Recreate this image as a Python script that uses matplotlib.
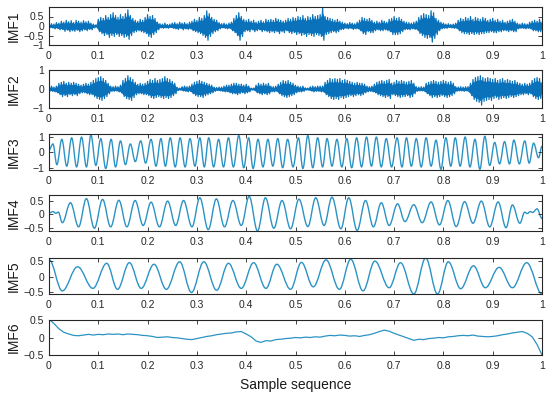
import numpy as np
import matplotlib
matplotlib.use("Agg")
import matplotlib.pyplot as plt
from matplotlib.path import Path
from matplotlib.patches import PathPatch

plt.rcParams['font.family'] = ['Liberation Sans', 'DejaVu Sans']

# ---------------- data ----------------
# IMF1 / IMF2: envelopes sampled every 0.005 on 0..1
env_t = np.linspace(0, 1, 201)
imf1_upper = [0.08, 0.12, 0.10, 0.18, 0.15, 0.25, 0.20, 0.30, 0.22, 0.28,
              0.18, 0.30, 0.25, 0.20, 0.28, 0.22, 0.25, 0.15, 0.10, 0.06,
              0.35, 0.45, 0.40, 0.55, 0.45, 0.60, 0.70, 0.55, 0.45, 0.60,
              0.50, 0.65, 0.85, 0.55, 0.40, 0.30, 0.25, 0.35, 0.30, 0.45,
              0.60, 0.50, 0.55, 0.40, 0.20, 0.12, 0.10, 0.15, 0.08, 0.10,
              0.15, 0.18, 0.12, 0.20, 0.15, 0.18, 0.12, 0.20, 0.25, 0.35,
              0.30, 0.45, 0.40, 0.55, 0.80, 0.65, 0.45, 0.35, 0.30, 0.18,
              0.12, 0.15, 0.10, 0.15, 0.20, 0.40, 0.55, 0.70, 0.50, 0.35,
              0.30, 0.35, 0.25, 0.30, 0.20, 0.25, 0.30, 0.22, 0.35, 0.30,
              0.35, 0.30, 0.40, 0.35, 0.30, 0.25, 0.30, 0.40, 0.35, 0.45,
              0.40, 0.50, 0.45, 0.55, 0.40, 0.50, 0.45, 0.60, 0.50, 0.55,
              0.60, 0.95, 0.50, 0.45, 0.40, 0.35, 0.30, 0.35, 0.25, 0.20,
              0.15, 0.12, 0.18, 0.15, 0.12, 0.20, 0.30, 0.45, 0.40, 0.35,
              0.40, 0.30, 0.20, 0.25, 0.20, 0.30, 0.25, 0.20, 0.35, 0.40,
              0.50, 0.40, 0.45, 0.35, 0.25, 0.20, 0.18, 0.15, 0.20, 0.25,
              0.45, 0.55, 0.65, 0.60, 0.55, 0.80, 0.70, 0.40, 0.30, 0.20,
              0.15, 0.10, 0.12, 0.08, 0.10, 0.15, 0.30, 0.40, 0.35, 0.45,
              0.40, 0.50, 0.35, 0.45, 0.40, 0.35, 0.45, 0.40, 0.30, 0.35,
              0.40, 0.30, 0.35, 0.25, 0.30, 0.20, 0.25, 0.30, 0.35, 0.25,
              0.15, 0.10, 0.15, 0.12, 0.10, 0.20, 0.25, 0.30, 0.25, 0.35,
              0.20]
imf1_lower = [-0.08, -0.10, -0.15, -0.12, -0.20, -0.18, -0.28, -0.22, -0.30, -0.25,
              -0.28, -0.22, -0.30, -0.25, -0.20, -0.25, -0.18, -0.20, -0.10, -0.05,
              -0.30, -0.40, -0.50, -0.45, -0.60, -0.50, -0.55, -0.45, -0.55, -0.50,
              -0.60, -0.55, -0.70, -0.50, -0.35, -0.30, -0.25, -0.30, -0.35, -0.40,
              -0.55, -0.60, -0.45, -0.35, -0.20, -0.10, -0.12, -0.10, -0.12, -0.08,
              -0.12, -0.15, -0.18, -0.12, -0.20, -0.15, -0.18, -0.15, -0.25, -0.30,
              -0.35, -0.40, -0.50, -0.60, -0.75, -0.55, -0.40, -0.30, -0.25, -0.15,
              -0.10, -0.12, -0.15, -0.12, -0.25, -0.35, -0.50, -0.75, -0.55, -0.30,
              -0.25, -0.30, -0.20, -0.30, -0.25, -0.20, -0.30, -0.25, -0.30, -0.35,
              -0.30, -0.35, -0.30, -0.40, -0.30, -0.35, -0.25, -0.35, -0.40, -0.35,
              -0.45, -0.40, -0.50, -0.45, -0.55, -0.45, -0.50, -0.55, -0.45, -0.50,
              -0.55, -0.75, -0.45, -0.40, -0.35, -0.30, -0.35, -0.30, -0.20, -0.18,
              -0.12, -0.15, -0.12, -0.18, -0.15, -0.15, -0.25, -0.40, -0.45, -0.30,
              -0.35, -0.35, -0.25, -0.20, -0.25, -0.25, -0.20, -0.25, -0.30, -0.45,
              -0.45, -0.45, -0.40, -0.30, -0.20, -0.18, -0.20, -0.15, -0.18, -0.20,
              -0.40, -0.50, -0.60, -0.65, -0.60, -0.85, -0.65, -0.45, -0.25, -0.15,
              -0.12, -0.12, -0.08, -0.10, -0.12, -0.12, -0.25, -0.35, -0.40, -0.40,
              -0.45, -0.40, -0.45, -0.40, -0.45, -0.40, -0.40, -0.35, -0.35, -0.30,
              -0.35, -0.35, -0.30, -0.30, -0.25, -0.25, -0.30, -0.25, -0.30, -0.30,
              -0.15, -0.12, -0.12, -0.15, -0.12, -0.15, -0.25, -0.25, -0.30, -0.30,
              -0.20]
imf2_upper = [0.10, 0.15, 0.10, 0.15, 0.30, 0.35, 0.40, 0.30, 0.35, 0.30,
              0.35, 0.30, 0.25, 0.20, 0.25, 0.30, 0.25, 0.35, 0.45, 0.55,
              0.60, 0.65, 0.55, 0.45, 0.30, 0.15, 0.12, 0.15, 0.12, 0.20,
              0.45, 0.55, 0.70, 0.60, 0.50, 0.35, 0.25, 0.30, 0.25, 0.30,
              0.40, 0.50, 0.45, 0.55, 0.45, 0.50, 0.55, 0.65, 0.55, 0.50,
              0.40, 0.30, 0.08, 0.05, 0.12, 0.15, 0.12, 0.15, 0.25, 0.35,
              0.40, 0.45, 0.40, 0.35, 0.30, 0.25, 0.20, 0.10, 0.08, 0.10,
              0.10, 0.15, 0.20, 0.20, 0.25, 0.30, 0.30, 0.25, 0.25, 0.20,
              0.25, 0.15, 0.05, 0.05, 0.20, 0.30, 0.25, 0.30, 0.25, 0.30,
              0.15, 0.12, 0.15, 0.25, 0.35, 0.45, 0.40, 0.45, 0.35, 0.30,
              0.20, 0.15, 0.12, 0.15, 0.06, 0.05, 0.12, 0.15, 0.12, 0.15,
              0.15, 0.15, 0.35, 0.45, 0.55, 0.50, 0.55, 0.50, 0.55, 0.45,
              0.50, 0.45, 0.40, 0.35, 0.30, 0.35, 0.30, 0.30, 0.25, 0.15,
              0.12, 0.15, 0.25, 0.35, 0.40, 0.45, 0.40, 0.45, 0.50, 0.30,
              0.35, 0.45, 0.40, 0.45, 0.40, 0.35, 0.40, 0.45, 0.30, 0.12,
              0.10, 0.12, 0.10, 0.30, 0.35, 0.40, 0.45, 0.40, 0.35, 0.40,
              0.45, 0.40, 0.35, 0.40, 0.30, 0.12, 0.10, 0.12, 0.10, 0.12,
              0.12, 0.30, 0.50, 0.60, 0.65, 0.70, 0.60, 0.55, 0.60, 0.55,
              0.50, 0.55, 0.45, 0.50, 0.55, 0.45, 0.50, 0.45, 0.40, 0.45,
              0.35, 0.30, 0.25, 0.30, 0.25, 0.30, 0.45, 0.55, 0.60, 0.55,
              0.35]
imf2_lower = [-0.10, -0.12, -0.15, -0.20, -0.30, -0.40, -0.35, -0.40, -0.30, -0.35,
              -0.30, -0.35, -0.25, -0.20, -0.20, -0.25, -0.30, -0.30, -0.40, -0.50,
              -0.55, -0.60, -0.50, -0.40, -0.25, -0.12, -0.12, -0.10, -0.15, -0.20,
              -0.40, -0.50, -0.55, -0.60, -0.45, -0.30, -0.25, -0.25, -0.30, -0.30,
              -0.35, -0.45, -0.50, -0.45, -0.40, -0.45, -0.50, -0.45, -0.50, -0.45,
              -0.35, -0.25, -0.08, -0.05, -0.10, -0.12, -0.15, -0.12, -0.25, -0.35,
              -0.40, -0.40, -0.45, -0.35, -0.30, -0.25, -0.20, -0.12, -0.08, -0.10,
              -0.12, -0.15, -0.15, -0.20, -0.25, -0.25, -0.30, -0.25, -0.20, -0.25,
              -0.20, -0.15, -0.05, -0.06, -0.20, -0.25, -0.30, -0.25, -0.30, -0.25,
              -0.15, -0.15, -0.12, -0.25, -0.35, -0.40, -0.45, -0.40, -0.35, -0.30,
              -0.20, -0.15, -0.15, -0.12, -0.05, -0.06, -0.10, -0.15, -0.12, -0.12,
              -0.15, -0.15, -0.30, -0.40, -0.50, -0.55, -0.50, -0.55, -0.45, -0.50,
              -0.45, -0.40, -0.35, -0.40, -0.35, -0.30, -0.35, -0.30, -0.20, -0.15,
              -0.12, -0.15, -0.20, -0.30, -0.35, -0.40, -0.45, -0.40, -0.50, -0.30,
              -0.35, -0.40, -0.45, -0.40, -0.40, -0.35, -0.45, -0.40, -0.25, -0.12,
              -0.10, -0.10, -0.12, -0.25, -0.35, -0.45, -0.40, -0.45, -0.40, -0.35,
              -0.40, -0.45, -0.40, -0.35, -0.25, -0.12, -0.10, -0.10, -0.12, -0.10,
              -0.15, -0.35, -0.55, -0.65, -0.70, -0.85, -0.65, -0.60, -0.55, -0.60,
              -0.50, -0.45, -0.55, -0.50, -0.45, -0.50, -0.45, -0.40, -0.45, -0.40,
              -0.35, -0.30, -0.30, -0.25, -0.30, -0.25, -0.40, -0.50, -0.55, -0.50,
              -0.30]

# IMF3..IMF5: successive extrema (time, value)
imf3_t = [0.0, 0.008, 0.016, 0.026, 0.036, 0.046, 0.056, 0.066, 0.076, 0.085,
          0.095, 0.105, 0.115, 0.126, 0.135, 0.145, 0.155, 0.165, 0.175, 0.186,
          0.196, 0.207, 0.217, 0.227, 0.236, 0.246, 0.256, 0.266, 0.276, 0.286,
          0.296, 0.306, 0.315, 0.324, 0.334, 0.344, 0.354, 0.364, 0.374, 0.385,
          0.395, 0.405, 0.414, 0.424, 0.434, 0.444, 0.454, 0.464, 0.474, 0.484,
          0.495, 0.506, 0.515, 0.525, 0.535, 0.545, 0.555, 0.564, 0.574, 0.584,
          0.594, 0.604, 0.614, 0.624, 0.634, 0.644, 0.654, 0.664, 0.674, 0.684,
          0.695, 0.706, 0.716, 0.725, 0.735, 0.745, 0.755, 0.765, 0.775, 0.785,
          0.795, 0.805, 0.815, 0.824, 0.834, 0.844, 0.854, 0.864, 0.874, 0.884,
          0.894, 0.904, 0.914, 0.924, 0.934, 0.943, 0.954, 0.965, 0.974, 0.983,
          0.993, 1.0]
imf3_v = [0.15, 0.55, -0.8, 0.85, -0.9, 0.95, -0.95, 1.0, -0.95, 1.15,
          -0.85, 0.9, -1.05, 0.85, -0.95, 0.75, -0.8, 0.55, -0.6, 0.75,
          -0.7, 0.85, -0.9, 0.9, -0.9, 0.95, -0.95, 0.95, -0.95, 0.9,
          -0.9, 0.95, -0.95, 0.95, -0.95, 0.85, -0.95, 0.95, -0.95, 1.1,
          -1.0, 0.95, -1.05, 0.85, -0.95, 0.85, -0.9, 0.9, -1.0, 0.85,
          -0.95, 0.95, -1.05, 1.1, -1.0, 0.95, -0.95, 0.9, -0.9, 0.85,
          -0.95, 0.9, -1.0, 0.95, -0.95, 1.0, -0.9, 1.0, -0.95, 0.9,
          -0.95, 0.95, -0.95, 0.95, -0.9, 0.9, -0.95, 0.95, -0.9, 0.8,
          -1.1, 0.95, -0.9, 0.95, -0.9, 1.0, -0.95, 0.85, -1.1, 1.05,
          -0.85, 0.65, -0.75, 0.7, -0.75, 0.8, -0.75, 0.75, -0.7, 0.6,
          -0.35, 0.4]

imf4_t = [0.0, 0.008, 0.014, 0.019, 0.027, 0.0435, 0.06, 0.0758, 0.092, 0.1087,
          0.125, 0.1417, 0.158, 0.1747, 0.191, 0.207, 0.224, 0.2406, 0.257, 0.2729,
          0.29, 0.3059, 0.323, 0.3395, 0.356, 0.3731, 0.39, 0.406, 0.423, 0.439,
          0.456, 0.4727, 0.49, 0.507, 0.525, 0.541, 0.558, 0.574, 0.592, 0.608,
          0.625, 0.642, 0.658, 0.674, 0.69, 0.707, 0.722, 0.740, 0.757, 0.775,
          0.792, 0.809, 0.826, 0.843, 0.860, 0.877, 0.894, 0.911, 0.927, 0.940,
          0.955, 0.965, 0.970, 0.976, 0.981, 0.990, 1.0]
imf4_v = [0.05, 0.1, 0.04, 0.08, -0.3, 0.42, -0.45, 0.57, -0.5, 0.54,
          -0.45, 0.51, -0.45, 0.5, -0.4, 0.44, -0.45, 0.48, -0.4, 0.5,
          -0.45, 0.6, -0.55, 0.56, -0.45, 0.5, -0.4, 0.65, -0.6, 0.6,
          -0.5, 0.5, -0.52, 0.55, -0.44, 0.6, -0.4, 0.62, -0.52, 0.6,
          -0.58, 0.5, -0.45, 0.42, -0.4, 0.38, -0.26, 0.35, -0.3, 0.45,
          -0.38, 0.5, -0.44, 0.46, -0.32, 0.48, -0.45, 0.45, -0.48, 0.34,
          -0.32, 0.08, 0.03, 0.1, 0.07, 0.2, -0.15]

imf5_t = [0.0, 0.027, 0.058, 0.089, 0.117, 0.139, 0.163, 0.187, 0.213, 0.238,
          0.265, 0.289, 0.314, 0.34, 0.364, 0.39, 0.415, 0.44, 0.462, 0.49,
          0.512, 0.536, 0.562, 0.589, 0.612, 0.637, 0.661, 0.69, 0.713, 0.74,
          0.764, 0.788, 0.81, 0.835, 0.861, 0.885, 0.913, 0.94, 0.969, 1.0]
imf5_v = [0.55, -0.45, 0.32, -0.37, 0.43, -0.4, 0.45, -0.37, 0.4, -0.4,
          0.48, -0.5, 0.48, -0.43, 0.43, -0.37, 0.45, -0.37, 0.4, -0.4,
          0.46, -0.32, 0.54, -0.4, 0.56, -0.45, 0.5, -0.35, 0.45, -0.55,
          0.6, -0.55, 0.48, -0.38, 0.35, -0.35, 0.3, -0.35, 0.45, -0.55]

# IMF6: sampled every 0.01
imf6_t = np.linspace(0, 1, 101)
imf6_v = [0.52, 0.40, 0.25, 0.15, 0.10, 0.06, 0.05, 0.07, 0.09, 0.07,
          0.09, 0.08, 0.10, 0.09, 0.10, 0.08, 0.10, 0.09, 0.08, 0.06,
          0.05, 0.03, 0.00, 0.01, 0.02, 0.00, -0.01, -0.03, -0.05, -0.06,
          -0.03, 0.00, 0.03, 0.05, 0.08, 0.10, 0.12, 0.13, 0.16, 0.17,
          0.10, 0.02, -0.10, -0.14, -0.09, -0.10, -0.06, -0.05, -0.03, -0.02,
          0.00, -0.01, 0.01, 0.00, 0.02, 0.01, 0.04, 0.06, 0.05, 0.07,
          0.06, 0.04, 0.05, 0.03, 0.06, 0.08, 0.12, 0.17, 0.21, 0.18,
          0.12, 0.07, 0.02, -0.03, -0.08, -0.05, -0.06, -0.03, -0.02, 0.00,
          -0.01, 0.02, 0.03, 0.05, 0.06, 0.05, 0.07, 0.04, 0.03, 0.02,
          0.03, 0.05, 0.08, 0.10, 0.13, 0.15, 0.17, 0.12, 0.02, -0.20,
          -0.50]

labels = ['IMF1', 'IMF2', 'IMF3', 'IMF4', 'IMF5', 'IMF6']
xticks = [0, 0.1, 0.2, 0.3, 0.4, 0.5, 0.6, 0.7, 0.8, 0.9, 1]
xticklabels = ['0', '0.1', '0.2', '0.3', '0.4', '0.5', '0.6', '0.7', '0.8', '0.9', '1']
ylims = [(-1, 1), (-1, 1), (-1.15, 1.2), (-0.6, 0.7), (-0.55, 0.6), (-0.5, 0.5)]
yticks = [[-1, -0.5, 0, 0.5], [-1, 0, 1], [-1, 0, 1], [-0.5, 0, 0.5],
          [-0.5, 0, 0.5], [-0.5, 0, 0.5]]

# ---------------- figure ----------------
W, H = 550, 394
fig = plt.figure(figsize=(W / 100, H / 100), dpi=100)
boxes_px = [(7, 45), (70, 108), (134, 170), (195, 231), (258, 294), (320, 355)]
left_px, right_px = 49, 542

band_col = '#0a72ba'
line_col = '#2b93c4'
K = 0.3634


def smooth_path(t, v):
    verts = [(t[0], v[0])]
    codes = [Path.MOVETO]
    for i in range(len(t) - 1):
        dt = t[i + 1] - t[i]
        verts += [(t[i] + K * dt, v[i]), (t[i + 1] - K * dt, v[i + 1]),
                  (t[i + 1], v[i + 1])]
        codes += [Path.CURVE4] * 3
    return Path(verts, codes)


def fmt(v):
    s = ('%g' % v)
    return s.replace('-', '\u2212')


axes = []
for i, (top, bot) in enumerate(boxes_px):
    ax = fig.add_axes([left_px / W, (H - bot) / H, (right_px - left_px) / W,
                       (bot - top) / H])
    axes.append(ax)
    ax.set_xlim(0, 1)
    ax.set_ylim(*ylims[i])
    ax.set_xticks(xticks)
    ax.set_xticklabels(xticklabels)
    ax.set_yticks(yticks[i])
    ax.set_yticklabels([fmt(v) for v in yticks[i]])
    ax.tick_params(direction='in', top=True, right=True, length=3, width=0.6,
                   labelsize=7.5, colors='#262626')
    ax.tick_params(axis='x', pad=4.5)
    ax.tick_params(axis='y', pad=3.5)
    for s in ax.spines.values():
        s.set_linewidth(0.8)
        s.set_color('#262626')
    ax.set_ylabel(labels[i], fontsize=10, color='#1a1a1a')
    ax.yaxis.set_label_coords(-0.058, 0.5)


def band(ax, t, up, lo):
    # dense oscillation drawn as a zig-zag between the read envelopes
    half = (t[1] - t[0]) / 2
    xs, ys = [], []
    for ti, u, l in zip(t, up, lo):
        xs += [ti, ti + half]
        ys += [u, l]
    ax.fill_between(t, np.array(lo) * 0.72, np.array(up) * 0.72,
                    color=band_col, lw=0)
    ax.plot(xs, ys, color=band_col, lw=0.9)


band(axes[0], env_t, imf1_upper, imf1_lower)
band(axes[1], env_t, imf2_upper, imf2_lower)
for ax, (t, v) in zip(axes[2:5], [(imf3_t, imf3_v), (imf4_t, imf4_v),
                                  (imf5_t, imf5_v)]):
    ax.add_patch(PathPatch(smooth_path(t, v), fill=False, edgecolor=line_col,
                           lw=1.0))
axes[5].plot(imf6_t, imf6_v, color=line_col, lw=0.9)
axes[5].set_xlabel('Sample sequence', fontsize=10, color='#1a1a1a', labelpad=5)

fig.savefig('out.png', dpi=100)
